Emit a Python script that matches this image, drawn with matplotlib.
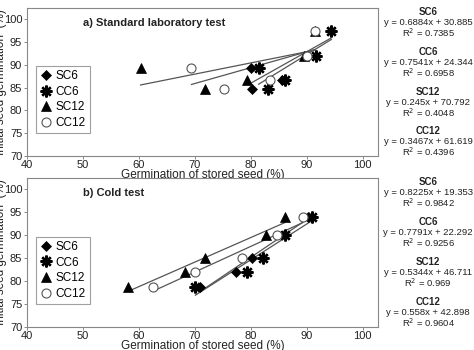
import matplotlib
matplotlib.use("Agg")
import matplotlib.pyplot as plt
import numpy as np

plt.rcParams['font.family'] = ['Liberation Sans', 'DejaVu Sans']

series = ["SC6", "CC6", "SC12", "CC12"]

# Panel a) Standard laboratory test
a_init = [89.3, 84.7, 86.7, 92.0, 97.4]
a_stored = {
    "SC6":  [80.1, 80.3, 85.6, 90.0, 94.3],
    "CC6":  [81.4, 83.0, 86.1, 91.6, 94.4],
    "SC12": [60.3, 71.8, 79.4, 89.6, 91.5],
    "CC12": [69.4, 75.3, 83.4, 90.1, 91.5],
}
a_slope = {"SC6": "0.6884", "CC6": "0.7541", "SC12": "0.245", "CC12": "0.3467"}
a_icpt = {"SC6": "30.885", "CC6": "24.344", "SC12": "70.792", "CC12": "61.619"}
a_r2 = {"SC6": "0.7385", "CC6": "0.6958", "SC12": "0.4048", "CC12": "0.4396"}

# Panel b) Cold test
b_init = [78.7, 82.0, 84.9, 90.0, 94.0]
b_stored = {
    "SC6":  [71.0, 77.4, 80.2, 86.1, 90.3],
    "CC6":  [70.1, 79.4, 82.2, 86.1, 91.0],
    "SC12": [58.1, 68.2, 71.8, 82.7, 86.1],
    "CC12": [62.6, 70.0, 78.5, 84.6, 89.3],
}
b_slope = {"SC6": "0.8225", "CC6": "0.7791", "SC12": "0.5344", "CC12": "0.558"}
b_icpt = {"SC6": "19.353", "CC6": "22.292", "SC12": "46.711", "CC12": "42.898"}
b_r2 = {"SC6": "0.9842", "CC6": "0.9256", "SC12": "0.969", "CC12": "0.9604"}

xticks = [40, 50, 60, 70, 80, 90, 100]
yticks = [70, 75, 80, 85, 90, 95, 100]

styles = {
    "SC6":  dict(marker="D", ms=5.5, mfc="black", mec="black", mew=0.5),
    "CC6":  dict(marker=(8, 2, 0), ms=8.5, mfc="black", mec="black", mew=1.7),
    "SC12": dict(marker="^", ms=6.5, mfc="black", mec="black", mew=0.5),
    "CC12": dict(marker="o", ms=6.5, mfc="white", mec="#555555", mew=0.8),
}

fig = plt.figure(figsize=(4.74, 3.5), dpi=100)
ax_a = fig.add_axes([0.057, 0.554, 0.740, 0.423])
ax_b = fig.add_axes([0.057, 0.066, 0.740, 0.425])

def draw(ax, init, stored, slope, icpt, r2, title, top_px):
    for s in series:
        xs = np.array(stored[s])
        x0, x1 = xs.min(), xs.max()
        m, c = float(slope[s]), float(icpt[s])
        ax.plot([x0, x1], [m * x0 + c, m * x1 + c],
                color="#555555", lw=0.9, zorder=2)
    for s in series:
        ax.plot(stored[s], init, ls="none", label=s, zorder=3, **styles[s])
    ax.set_xlim(40, 102.7)
    ax.set_ylim(70, 102.4)
    ax.set_xticks(xticks)
    ax.set_yticks(yticks)
    ax.tick_params(labelsize=8, length=2.5, width=0.6, color="#777777",
                   labelcolor="#222222")
    ax.tick_params(axis="x", pad=0.5)
    ax.tick_params(axis="y", pad=1)
    for sp in ax.spines.values():
        sp.set_color("#888888")
        sp.set_linewidth(0.8)
    ax.set_xlabel("Germination of stored seed (%)", fontsize=8.5, labelpad=-1,
                  color="#222222")
    ax.set_ylabel("Initial seed germination  (%)", fontsize=8.5, color="#222222")
    ax.yaxis.set_label_coords(-0.058, 0.5)
    ax.text(0.16, 0.9, title, transform=ax.transAxes, fontsize=8, fontweight="bold",
            va="center", ha="left", color="#222222")
    leg = ax.legend(loc="lower left", bbox_to_anchor=(0.026, 0.155), fontsize=8.5,
                    frameon=True, fancybox=False, edgecolor="#888888",
                    borderpad=0.35, labelspacing=0.3, handletextpad=0.3,
                    handlelength=1.0, borderaxespad=0)
    leg.get_frame().set_linewidth(0.8)
    # equation annotations on the right
    for i, s in enumerate(series):
        y0 = top_px[i]
        fig.text(428 / 474, 1 - y0 / 350, s, fontsize=7, fontweight="bold",
                 ha="center", va="center", color="#222222")
        fig.text(428 / 474, 1 - (y0 + 10.5) / 350,
                 "y = " + slope[s] + "x + " + icpt[s],
                 fontsize=6.8, ha="center", va="center", color="#222222")
        fig.text(428 / 474, 1 - (y0 + 20.5) / 350, "R$^2$ = " + r2[s],
                 fontsize=6.8, ha="center", va="center", color="#222222")

draw(ax_a, a_init, a_stored, a_slope, a_icpt, a_r2, "a) Standard laboratory test",
     [12, 52, 92, 131])
draw(ax_b, b_init, b_stored, b_slope, b_icpt, b_r2, "b) Cold test",
     [182, 222, 262, 302])

fig.savefig("out.png", dpi=100)
